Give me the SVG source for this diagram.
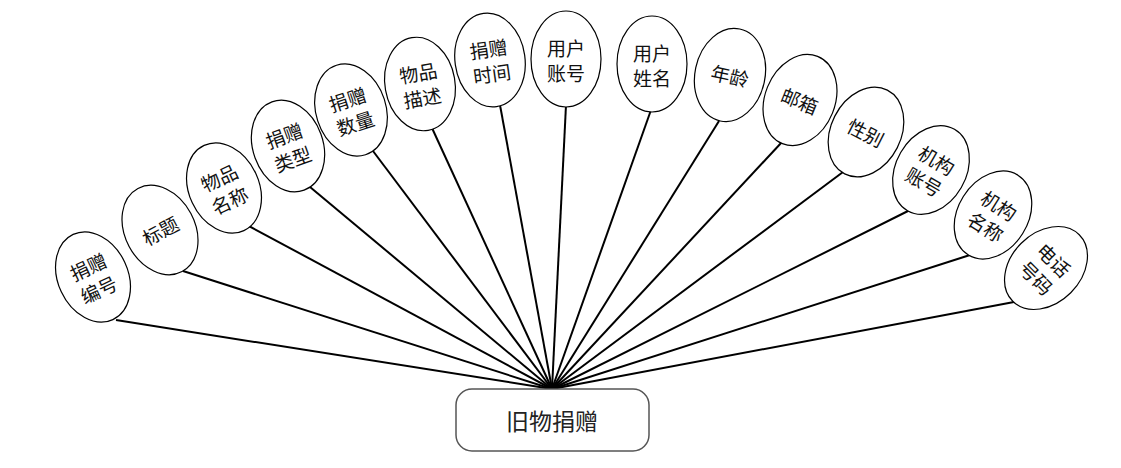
<svg xmlns="http://www.w3.org/2000/svg" width="1121" height="468" viewBox="0 0 1121 468">
<style>
.e{fill:#fff;stroke:#000;stroke-width:1.2}
.t{font-family:"Noto Sans CJK SC","Liberation Sans",sans-serif;font-size:19px;fill:#111;text-anchor:middle;dominant-baseline:central}
.c line{stroke:#000;stroke-width:2}
.hub{fill:#fff;stroke:#555;stroke-width:1.5}
.ht{font-family:"Noto Sans CJK SC","Liberation Sans",sans-serif;font-size:23px;fill:#222;text-anchor:middle;dominant-baseline:central}
</style>
<rect width="1121" height="468" fill="#fff"/>
<g class="c" id="connectors">
<line x1="552" y1="389" x2="116" y2="320"/>
<line x1="552" y1="389" x2="183" y2="271"/>
<line x1="552" y1="389" x2="247" y2="225"/>
<line x1="552" y1="389" x2="310" y2="187"/>
<line x1="552" y1="389" x2="373" y2="151"/>
<line x1="552" y1="389" x2="432" y2="128"/>
<line x1="552" y1="389" x2="500" y2="105"/>
<line x1="552" y1="389" x2="566" y2="105"/>
<line x1="552" y1="389" x2="651" y2="110"/>
<line x1="552" y1="389" x2="719" y2="121"/>
<line x1="552" y1="389" x2="782" y2="142"/>
<line x1="552" y1="389" x2="843" y2="172"/>
<line x1="552" y1="389" x2="910" y2="210"/>
<line x1="552" y1="389" x2="970" y2="255"/>
<line x1="552" y1="389" x2="1014" y2="302"/>
</g>
<g id="n1" transform="translate(93,277) rotate(-25)"><ellipse class="e" rx="35" ry="47"/><text class="t" y="-12">捐赠</text><text class="t" y="13">编号</text></g>
<g id="n2" transform="translate(160,230) rotate(-28)"><ellipse class="e" rx="35" ry="47"/><text class="t" y="0">标题</text></g>
<g id="n3" transform="translate(224,188) rotate(-25)"><ellipse class="e" rx="35" ry="47"/><text class="t" y="-12">物品</text><text class="t" y="13">名称</text></g>
<g id="n4" transform="translate(288,146) rotate(-20)"><ellipse class="e" rx="35" ry="47"/><text class="t" y="-12">捐赠</text><text class="t" y="13">类型</text></g>
<g id="n5" transform="translate(351,110) rotate(-18)"><ellipse class="e" rx="35" ry="47"/><text class="t" y="-12">捐赠</text><text class="t" y="13">数量</text></g>
<g id="n6" transform="translate(420,84) rotate(-10)"><ellipse class="e" rx="35" ry="47"/><text class="t" y="-12">物品</text><text class="t" y="13">描述</text></g>
<g id="n7" transform="translate(490,60) rotate(-8)"><ellipse class="e" rx="35" ry="47"/><text class="t" y="-12">捐赠</text><text class="t" y="13">时间</text></g>
<g id="n8" transform="translate(566,59) rotate(0)"><ellipse class="e" rx="35" ry="48"/><text class="t" y="-12">用户</text><text class="t" y="13">账号</text></g>
<g id="n9" transform="translate(652,64) rotate(0)"><ellipse class="e" rx="35" ry="48"/><text class="t" y="-12">用户</text><text class="t" y="13">姓名</text></g>
<g id="n10" transform="translate(730,75) rotate(12)"><ellipse class="e" rx="35" ry="47"/><text class="t" y="0">年龄</text></g>
<g id="n11" transform="translate(800,100) rotate(22)"><ellipse class="e" rx="35" ry="47"/><text class="t" y="0">邮箱</text></g>
<g id="n12" transform="translate(866,132) rotate(27)"><ellipse class="e" rx="35" ry="47"/><text class="t" y="0">性别</text></g>
<g id="n13" transform="translate(931,170) rotate(30)"><ellipse class="e" rx="35" ry="47"/><text class="t" y="-12">机构</text><text class="t" y="13">账号</text></g>
<g id="n14" transform="translate(993,215) rotate(32)"><ellipse class="e" rx="35" ry="47"/><text class="t" y="-12">机构</text><text class="t" y="13">名称</text></g>
<g id="n15" transform="translate(1046,268) rotate(45)"><ellipse class="e" rx="35" ry="47"/><text class="t" y="-12">电话</text><text class="t" y="13">号码</text></g>
<g id="hub"><rect class="hub" x="456" y="389" width="193" height="62" rx="16"/><text class="ht" x="552" y="420">旧物捐赠</text></g>
</svg>
